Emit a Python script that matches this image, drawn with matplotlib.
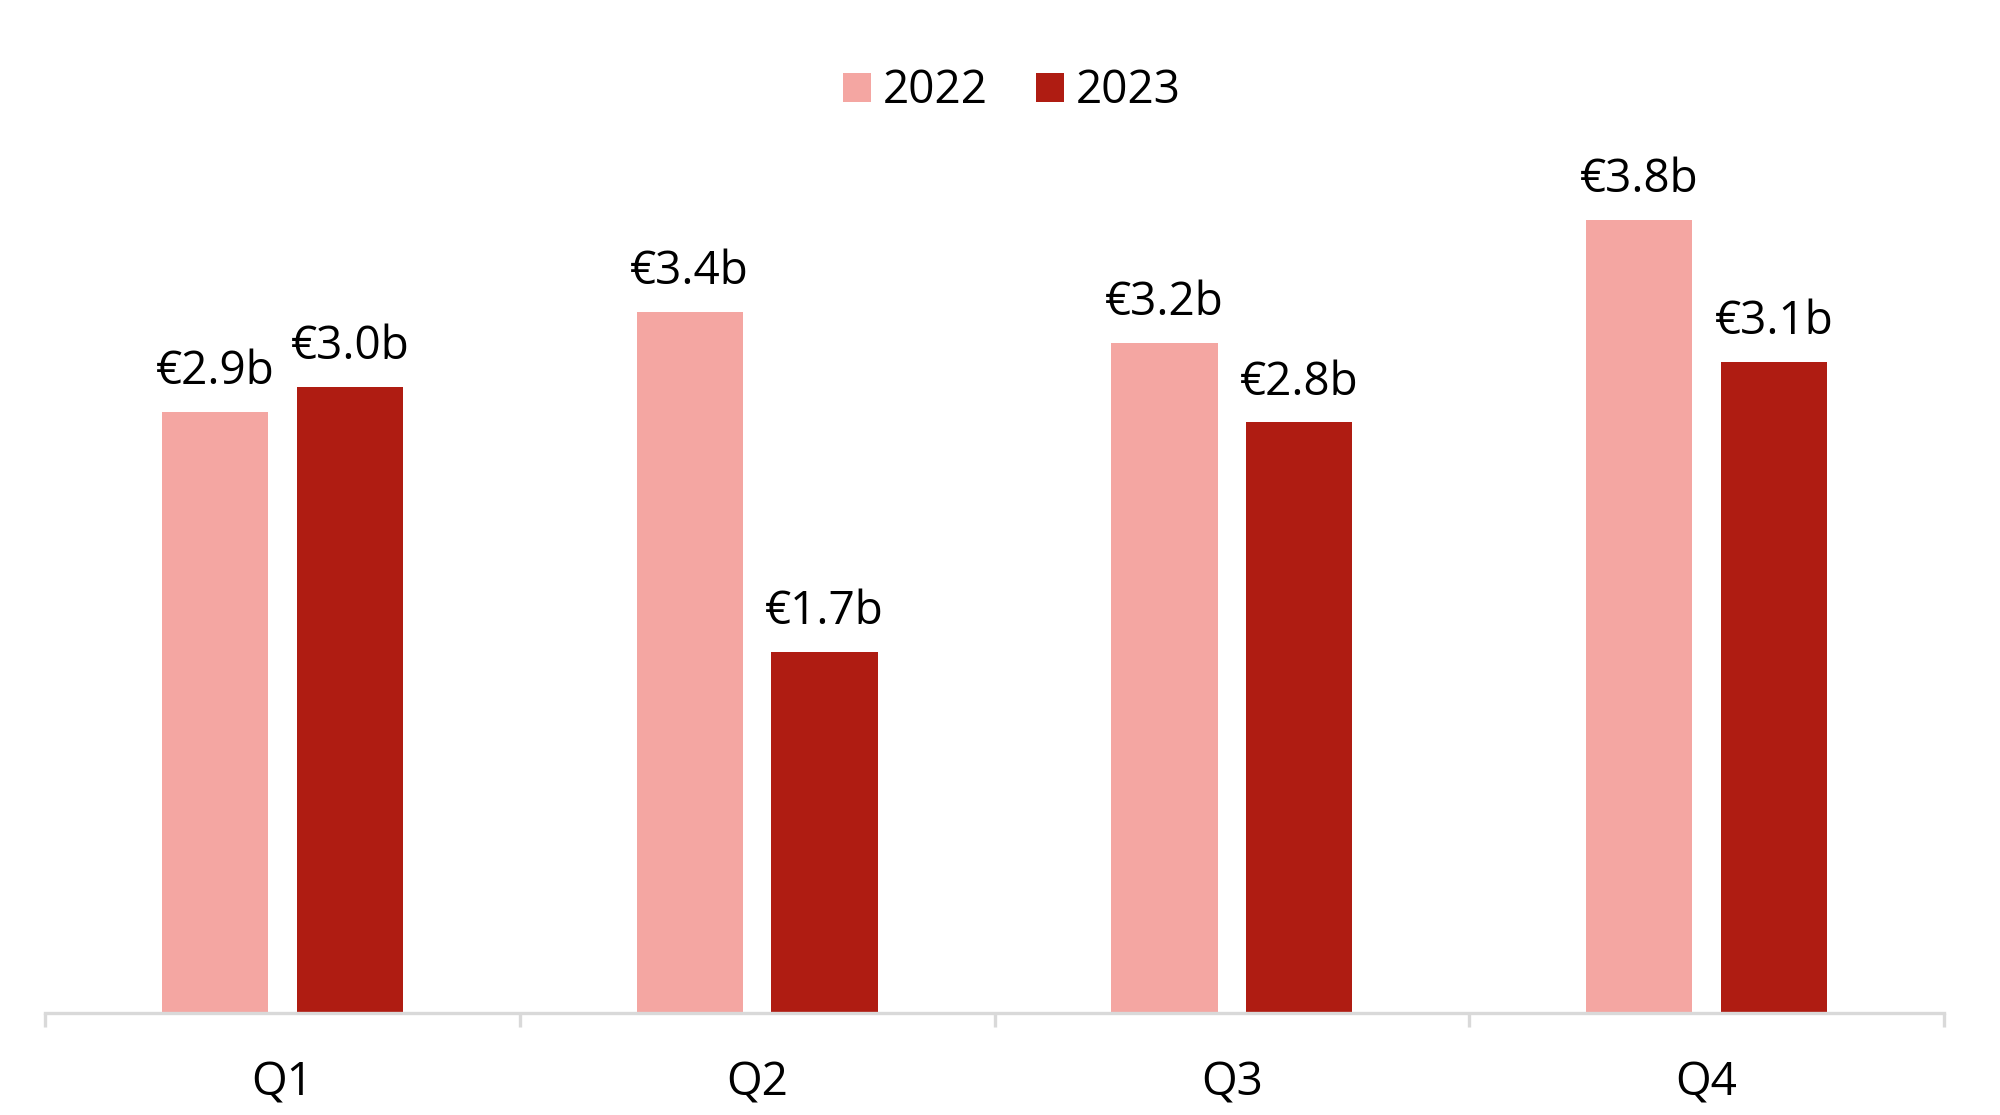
import numpy as np
import matplotlib.pyplot as plt

plt.rcParams['font.family'] = ['Open Sans', 'DejaVu Sans']

quarters = ['Q1', 'Q2', 'Q3', 'Q4']
years = ['2022', '2023']
values_2022 = [2.88, 3.36, 3.21, 3.80]
values_2023 = [3.00, 1.73, 2.83, 3.12]
bar_colors = ['#F4A6A2', '#AF1C12']

FONT_SIZE = 16.5

fig = plt.figure(figsize=(10, 5.575), dpi=200)
ax = fig.add_axes([0.0225, 0.0915, 0.9495, 0.82])

x = np.arange(len(quarters))
width = 0.224
offset = 0.142

bars_a = ax.bar(x - offset, values_2022, width, color=bar_colors[0], label=years[0])
bars_b = ax.bar(x + offset, values_2023, width, color=bar_colors[1], label=years[1])

for bars in (bars_a, bars_b):
    ax.bar_label(bars, labels=['€{:.1f}b'.format(v) for v in bars.datavalues],
                 padding=6, fontsize=FONT_SIZE, color='black')

ax.set_xlim(-0.5, len(quarters) - 0.5)
ax.set_ylim(0, 4.38)

for side in ('left', 'right', 'top'):
    ax.spines[side].set_visible(False)
ax.spines['bottom'].set_color('#d9d9d9')
ax.spines['bottom'].set_linewidth(1.2)
ax.set_yticks([])

ax.set_xticks(x)
ax.set_xticklabels(quarters, fontsize=FONT_SIZE)
ax.tick_params(axis='x', which='major', length=0, pad=17)
ax.set_xticks(np.arange(len(quarters) + 1) - 0.5, minor=True)
ax.tick_params(axis='x', which='minor', length=5, width=1.2, color='#d9d9d9')

leg = ax.legend(loc='center', ncol=2, frameon=False, fontsize=FONT_SIZE,
                handlelength=0.6, handleheight=0.6, handletextpad=0.27,
                columnspacing=1.05)
leg.set_bbox_to_anchor((0.506, 0.918), transform=fig.transFigure)

fig.savefig('out.png', dpi=200, facecolor='white')
